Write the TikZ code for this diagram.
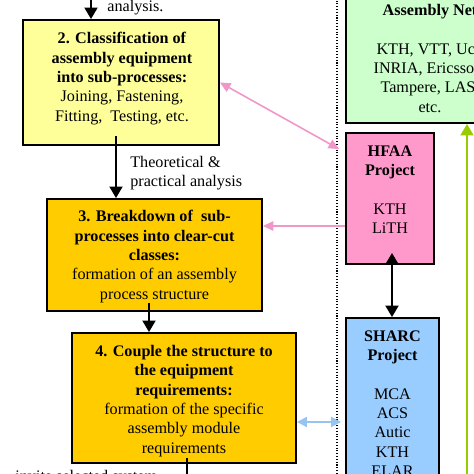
\documentclass[tikz,border=0pt]{standalone}
\usepackage{fontspec}
\setmainfont{Liberation Serif}
\usetikzlibrary{arrows.meta,calc}

\definecolor{boxyellow}{RGB}{255,255,153}
\definecolor{boxorange}{RGB}{255,204,0}
\definecolor{boxpink}{RGB}{255,153,204}
\definecolor{boxblue}{RGB}{153,204,255}
\definecolor{boxgreen}{RGB}{204,255,204}
\definecolor{linkpink}{RGB}{240,150,200}
\definecolor{linkblue}{RGB}{150,195,240}
\definecolor{linkgreen}{RGB}{153,204,0}

\tikzset{
  blk/.tip={Triangle[length=0.23cm,width=0.26cm]},
  pnk/.tip={Triangle[length=0.21cm,width=0.19cm]},
  blu/.tip={Triangle[length=0.2cm,width=0.2cm]},
  stage/.style={draw, line width=1.1pt, inner sep=0pt},
  txt/.style={font=\fontsize{9.2}{11}\selectfont, align=center, inner sep=0pt},
  arr/.style={-blk, line width=1.1pt},
  pinkarr/.style={-pnk, line width=0.9pt, draw=linkpink},
  bluearr/.style={blu-blu, line width=1.1pt, draw=linkblue},
  greenarr/.style={-blk, line width=1.1pt, draw=linkgreen}
}

\begin{document}
\begin{tikzpicture}[x=0.02cm,y=-0.02cm]
       \useasboundingbox (0,0) rectangle (474,474);

       % left column
       \node[stage, fill=boxyellow, minimum width=3.92cm, minimum height=2.5cm] (b2) at (121,82.5) {};
       \node[txt, anchor=north] (b2txt) at ($(b2.north)+(1,13)$) {\textbf{2. Classification of}\\ \textbf{assembly equipment}\\ \textbf{into sub-processes:}\\ Joining, Fastening,\\ Fitting,\ \ Testing, etc.};

       \node[stage, fill=boxorange, minimum width=4.3cm, minimum height=2.24cm] (b3) at (154.5,255) {};
       \node[txt, anchor=north] (b3txt) at ($(b3.north)+(0,12)$) {\textbf{3. Breakdown of\ \ sub-}\\ \textbf{processes into clear-cut}\\ \textbf{classes:}\\ formation of an assembly\\ process structure};

       \node[stage, fill=boxorange, minimum width=4.48cm, minimum height=2.6cm] (b4) at (184,398) {};
       \node[txt, anchor=north] (b4txt) at ($(b4.north)+(0,13)$) {\textbf{4. Couple the structure to}\\ \textbf{the equipment}\\ \textbf{requirements:}\\ formation of the specific\\ assembly module\\ requirements};

       % right column
       \draw[densely dotted, line width=0.6pt] (337,-5) -- (337,480);

       \node[stage, fill=boxgreen, minimum width=3.44cm, minimum height=3.06cm] (net) at (432,46.5) {};
       \node[txt, anchor=north] (nettxt) at (430,4) {\textbf{Assembly Net}\\[11pt] KTH, VTT, Ucl,\\ INRIA, Ericsson,\\ Tampere, LAS,\\ etc.};

       \node[stage, fill=boxpink, minimum width=1.76cm, minimum height=2.62cm] (hfaa) at (390,198.5) {};
       \node[txt, anchor=north] (hfaatxt) at ($(hfaa.north)+(0,13)$) {\textbf{HFAA}\\ \textbf{Project}\\[11pt] KTH\\ LiTH};

       \node[stage, fill=boxblue, minimum width=1.86cm, minimum height=4.84cm] (sharc) at (392.5,439) {};
       \node[txt, anchor=north] (sharctxt) at ($(sharc.north)+(0,13)$) {\textbf{SHARC}\\ \textbf{Project}\\[11pt] MCA\\ ACS\\ Autic\\ KTH\\ ELAR};

       % labels
       \node[txt, anchor=base west] (lbltop) at (107,11) {analysis.};
       \node[txt, anchor=north west, align=left] (lbl23) at (130,156) {Theoretical \&\\ practical analysis};
       \node[txt, anchor=base west] (lblbot) at (15,481.5) {invite selected system};

       % connectors
       \coordinate (entry) at (91,-20);
       \coordinate (exit) at (187,500);
       \coordinate (lime) at (467,500);
       \draw[arr] (entry) -- (entry |- b2.north);
       \coordinate (s23) at ($(b2.south)+(-5,-10)$);
       \draw[arr] (s23) -- (s23 |- b3.north);
       \coordinate (s34) at ($(b3.south)+(-5.5,-9)$);
       \draw[arr] (s34) -- (s34 |- b4.north);
       \coordinate (s4) at ($(b4.south)+(3,-6)$);
       \draw[line width=1.1pt] (s4) -- (s4 |- exit);

       \draw[pinkarr, pnk-pnk] (b2.east) -- ($(hfaa.north west)+(-6,17)$);
       \coordinate (p3) at ($(hfaa.west)+(0,27.5)$);
       \draw[pinkarr] (p3) -- (p3 -| b3.east);
       \coordinate (q4) at ($(b4.east)+(0,24)$);
       \draw[bluearr] (q4) -- ($(q4 -| sharc.west)+(-4,0)$);
       \coordinate (hs) at ($(hfaa.south)+(2,-12)$);
       \draw[arr, blk-blk] (hs) -- (hs |- sharc.north);
       \draw[greenarr] (lime) -- (lime |- net.south);
\end{tikzpicture}
\end{document}
